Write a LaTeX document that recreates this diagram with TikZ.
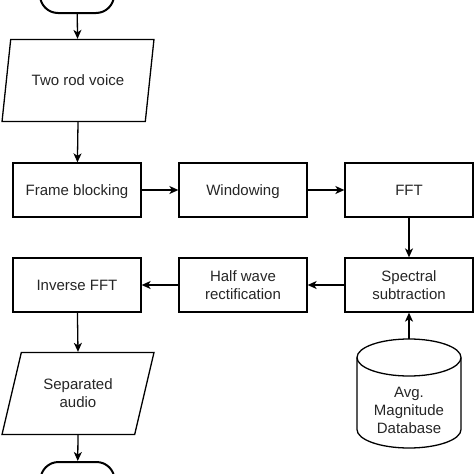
\documentclass[tikz,border=0pt]{standalone}
\usepackage{fontspec}
\setmainfont{Liberation Sans}
\usetikzlibrary{shapes.geometric,arrows.meta}
\begin{document}
\begin{tikzpicture}[x=1pt, y=-1pt, line width=1.3pt,
  every node/.style={font=\fontsize{15}{18}\selectfont, text=black!85, text depth=0pt},
  proc/.style={draw, fill=white, minimum width=128pt, minimum height=54pt, align=center},
  io/.style={draw, fill=white, trapezium, trapezium left angle=70, trapezium right angle=110, trapezium stretches=true, minimum width=152pt, minimum height=82pt, align=center},
  term/.style={draw, fill=white, rounded corners=18pt, minimum width=74pt, minimum height=42pt, line width=2pt},
  arr/.style={-{Stealth[length=9pt,width=8pt,inset=2.5pt]}}]
\useasboundingbox (0,0) rectangle (474,474);
\clip (0,0) rectangle (474,474);
% input side
\node[term] (start) at (77,-8) {};
\node[io] (voice) at (78,80.5) {Two rod voice};
\node[proc] (frame) at (77,190) {Frame blocking};
\node[proc] (win) at (243,190) {Windowing};
\node[proc] (fft) at (409,190) {FFT};
% output side
\node[proc] (spec) at (409,285) {Spectral\\ subtraction};
\node[proc] (half) at (243,285) {Half wave\\ rectification};
\node[proc] (ifft) at (77,285) {Inverse FFT};
\node[io] (sep) at (78,393.5) {Separated\\ audio};
\node[term] (stop) at (77.5,483) {};
% database
\node[minimum width=104pt, minimum height=109pt, align=center] (db) at (409,410) {Avg.\\ Magnitude\\ Database};
\draw (409,357.5) ellipse [x radius=52pt, y radius=18.5pt];
\draw (357,357.5) -- (357,429.5) arc[start angle=180, end angle=360, x radius=52pt, y radius=18.5pt] -- (461,357.5);
\coordinate (dbtop) at (409,339);
\draw[arr] (start) -- (voice);
\draw[arr] (voice.south) -- (frame);
\draw[arr] (frame) -- (win);
\draw[arr] (win) -- (fft);
\draw[arr] (fft) -- (spec);
\draw[arr] (spec) -- (half);
\draw[arr] (half) -- (ifft);
\draw[arr] (ifft) -- (sep.north);
\draw[arr] (sep.south) -- (stop);
\draw[arr] (dbtop) -- (spec);
\end{tikzpicture}
\end{document}
